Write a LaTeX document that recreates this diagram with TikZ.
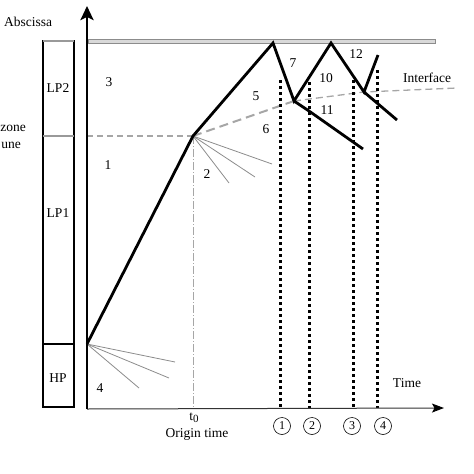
\documentclass[tikz,border=0pt]{standalone}
\usepackage{fontspec}
\setmainfont{Liberation Serif}
\usetikzlibrary{arrows.meta}
\begin{document}
\begin{tikzpicture}[x=1pt,y=-1pt,
  lbl/.style={font=\fontsize{13.5}{15}\selectfont, inner sep=0pt},
  curve/.style={line width=2.8pt, line join=miter},
  fan/.style={black!45, line width=0.8pt},
  dots/.style={line width=3pt, dash pattern=on 3pt off 3pt},
  circ/.style={circle, draw, line width=0.6pt, minimum size=17pt, inner sep=0pt, font=\fontsize{12}{12}\selectfont}]
\useasboundingbox (0,0) rectangle (474,474);

% key points
\coordinate (O) at (87,409);
\coordinate (A) at (87,344);
\coordinate (K) at (193,136);
\coordinate (P1) at (273,43);
\coordinate (V1) at (294,101);
\coordinate (P2) at (331,43);
\coordinate (V2) at (364,92);
\coordinate (E1) at (378,55);
\coordinate (J) at (309,111);
\coordinate (E2) at (363,149);
\coordinate (E3) at (397,120);
\coordinate (IEnd) at (457,88);
\coordinate (YTop) at (87,6);
\coordinate (XEnd) at (444,408);

% left column
\draw[line width=1.3pt] (43,41) rectangle (74,407);
\draw[black!40, line width=1.6pt] (43,41) -- (74,41);
\draw[black!40, line width=1.4pt] (43,136) -- (74,136);
\draw[line width=1.3pt] (43,344) -- (74,344);
\node[lbl] (lp2) at (58,88) {LP2};
\node[lbl] (lp1) at (58,213) {LP1};
\node[lbl] (hp) at (58,378) {HP};
\node[lbl, anchor=west] (absc) at (4,22) {Abscissa};
\node[lbl, anchor=east] (zone) at (26,128) {zone};
\node[lbl, anchor=east] (une) at (21,145) {une};

% top boundary (double gray line)
\draw[black!45, fill=black!15, line width=0.7pt] (88,39.5) rectangle (435,43.5);

% dashed gray lines
\draw[black!35, line width=1.4pt, dash pattern=on 6pt off 4pt] (87,136) -- (K);
\draw[black!35, line width=2pt, dash pattern=on 9pt off 5pt] (K) -- (V1);
\draw[black!35, line width=1.3pt, dash pattern=on 7pt off 4pt] (V1) -- (V2) -- (IEnd);
\node[lbl, anchor=west] (interface) at (403,78) {Interface};

% vertical dash-dot at t0
\draw[black!35, line width=0.9pt, dash pattern=on 8pt off 2pt on 1pt off 2pt] (K) -- (193,408);

% fans
\draw[fan] (K) -- (272,164);
\draw[fan] (K) -- (255,177);
\draw[fan] (K) -- (229,183);
\draw[fan] (A) -- (175,362);
\draw[fan] (A) -- (169,378);
\draw[fan] (A) -- (139,388);

% dotted verticals
\draw[dots] (280,80) -- (280,408);
\draw[dots] (309,82) -- (309,408);
\draw[dots] (353,80) -- (353,408);
\draw[dots] (377,70) -- (377,408);

% main black polyline
\draw[curve] (A) -- (K) -- (P1) -- (V1) -- (P2) -- (V2) -- (E1);
\draw[curve] (V1) -- (J) -- (E2);
\draw[curve] (V2) -- (E3);

% axes
\draw[black!80, line width=1pt, -{Stealth[length=12pt,width=9pt,inset=2.5pt,black]}] (O) -- (XEnd);
\draw[line width=2.8pt, -{Stealth[length=14pt,width=13pt,inset=3pt]}] (O) -- (YTop);

% region numbers
\node[lbl] (n3) at (109,82) {3};
\node[lbl] (n1) at (108,165) {1};
\node[lbl] (n2) at (207,174) {2};
\node[lbl] (n4) at (100,388) {4};
\node[lbl] (n5) at (256,96) {5};
\node[lbl] (n6) at (266,129) {6};
\node[lbl] (n7) at (293,63) {7};
\node[lbl] (n10) at (326,78) {10};
\node[lbl] (n11) at (327,110) {11};
\node[lbl] (n12) at (356,54) {12};

% axis labels
\node[lbl] (time) at (407,383) {Time};
\node[lbl] (t0) at (194,418) {t\raisebox{-0.35ex}{\fontsize{11}{11}\selectfont 0}};
\node[lbl] (origin) at (197,434) {Origin time};

% circled numbers
\node[circ] (c1) at (282,426) {1};
\node[circ] (c2) at (312,426) {2};
\node[circ] (c3) at (352,426) {3};
\node[circ] (c4) at (383,426) {4};
\end{tikzpicture}
\end{document}
